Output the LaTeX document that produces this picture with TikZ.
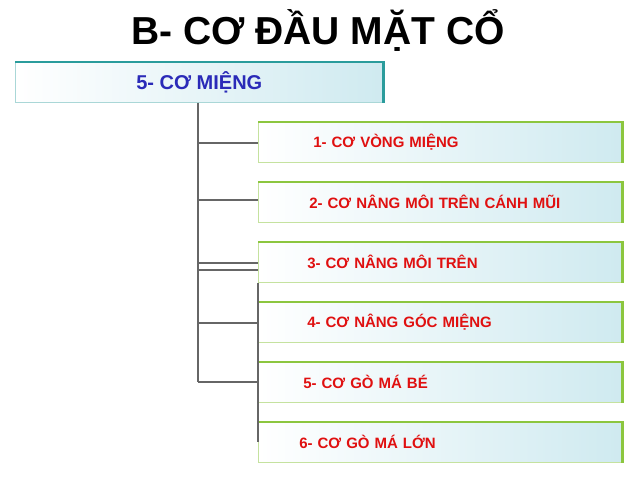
\documentclass[tikz,border=0pt]{standalone}
\usepackage{fontspec}
\setmainfont{Liberation Sans}
\definecolor{gr}{HTML}{8CC63F}
\definecolor{teal}{HTML}{2A9C9C}
\definecolor{lb}{HTML}{CFEAF0}
\definecolor{tred}{HTML}{E01010}
\definecolor{tblue}{HTML}{2A2AB8}
\begin{document}
\begin{tikzpicture}[x=1pt,y=-1pt,
  sub/.style={minimum width=364pt,minimum height=40pt,anchor=north west,left color=white,right color=lb,draw=gr!50,line width=0.6pt,text=tred,font=\bfseries\fontsize{15}{17}\selectfont,align=left,text width=364pt,inner xsep=0pt},
  conn/.style={draw=gray!80!black,line width=1.2pt}]
\useasboundingbox (0,0) rectangle (638,478);
\node[font=\bfseries\fontsize{39}{44}\selectfont] (title) at (318,31) {B- CƠ ĐẦU MẶT CỔ};
\node[anchor=north west,minimum width=368pt,minimum height=40pt,left color=white,right color=lb,draw=teal!40,line width=0.6pt,text=tblue,font=\bfseries\fontsize{20}{22}\selectfont] (main) at (15,62) {5- CƠ MIỆNG};
\draw[teal,line width=2.5pt] (main.north west) -- (main.north east) -- (main.south east);
\node[sub] (b1) at (258,122) {\hspace*{55pt}1- CƠ VÒNG MIỆNG};
\node[sub] (b2) at (258,182) {\hspace*{51pt}2- CƠ NÂNG MÔI TRÊN CÁNH MŨI};
\node[sub] (b3) at (258,242) {\hspace*{49pt}3- CƠ NÂNG MÔI TRÊN};
\node[sub] (b4) at (258,302) {\hspace*{49pt}4- CƠ NÂNG GÓC MIỆNG};
\node[sub] (b5) at (258,362) {\hspace*{45pt}5- CƠ GÒ MÁ BÉ};
\node[sub] (b6) at (258,422) {\hspace*{41pt}6- CƠ GÒ MÁ LỚN};
\foreach \b in {b1,b2,b3,b4,b5,b6}{
  \draw[gr,line width=2.5pt] (\b.north west) -- (\b.north east) -- (\b.south east);}
\coordinate (trunkend) at (198,382);
\draw[conn] (main.south -| trunkend) -- (trunkend);
\draw[conn] (198,143) -- (b1.west |- 0,143);
\draw[conn] (198,200) -- (b2.west |- 0,200);
\draw[conn] (198,263) -- (b3.west |- 0,263);
\draw[conn] (198,270) -- (b3.west |- 0,270);
\draw[conn] (198,323) -- (b4.west |- 0,323);
\draw[conn] (trunkend) -- (b5.west |- trunkend);
\draw[conn] (b3.south west) -- (b6.west);
\end{tikzpicture}
\end{document}
